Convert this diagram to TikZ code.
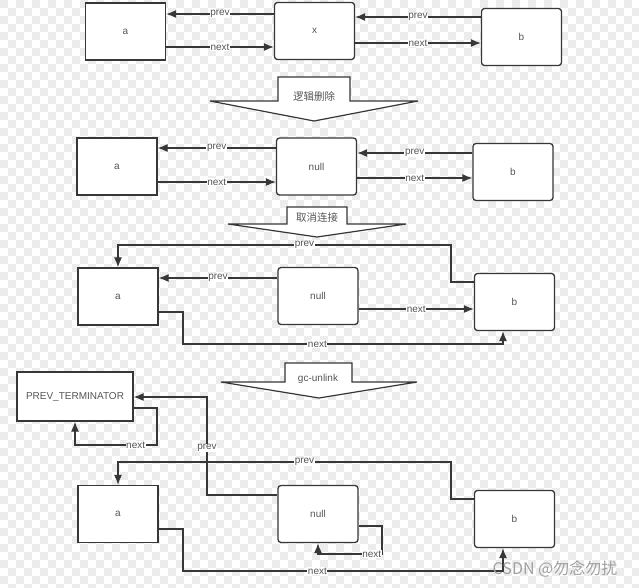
\documentclass[tikz,border=0pt]{standalone}
\usepackage{fontspec}
\setmainfont{Liberation Sans}
\newfontfamily\cjk{Noto Sans CJK SC}
\usetikzlibrary{arrows.meta, calc}
\definecolor{linegray}{RGB}{55,55,55}
\definecolor{textgray}{RGB}{85,85,85}
\definecolor{checker}{RGB}{236,236,236}
\definecolor{markgray}{RGB}{160,160,160}

\tikzset{
  box/.style={draw=linegray, line width=1.3pt, fill=white, minimum width=80pt,
    minimum height=57pt, text=textgray, font=\fontsize{10}{11}\selectfont},
  rbox/.style={box, rounded corners=3pt},
  link/.style={draw=linegray, line width=1.2pt, -{Latex[length=10pt,width=8pt]}},
  lbl/.style={fill=white, inner sep=0.6pt, text=textgray, font=\fontsize{10}{10}\selectfont},
  bigarrow/.style={draw=linegray, line width=1.2pt, fill=white, line join=miter},
  steptext/.style={inner sep=0pt, text=textgray, font=\fontsize{10.5}{11}\selectfont},
}

\begin{document}
\begin{tikzpicture}[x=1pt, y=-1pt]
  \useasboundingbox (0,0) rectangle (639,587);
  % transparent background
  \begin{scope}
    \clip (0,0) rectangle (639,587);
    \fill[white] (0,0) rectangle (639,587);
    \foreach \i in {0,...,79}{
      \foreach \j in {0,...,36}{
        \fill[checker] ({8*\i},{16*\j+8*mod(\i,2)}) rectangle ++(8,8);
      }
    }
  \end{scope}

  % row 1
  \node[box] (a1) at (125.5,31.5) {a};
  \node[rbox] (x1) at (314.5,31) {x};
  \node[rbox] (b1) at (521.5,37) {b};
  \draw[link] (x1.west |- 0,14) -- node[lbl] {prev} (a1.east |- 0,14);
  \draw[link] (a1.east |- 0,47) -- node[lbl] {next} (x1.west |- 0,47);
  \draw[link] (b1.west |- 0,17) -- node[lbl] {prev} (x1.east |- 0,17);
  \draw[link] (x1.east |- 0,43) -- node[lbl] {next} (b1.west |- 0,43);

  % step 1
  \draw[bigarrow] (278,77) -- (350,77) -- (350,101) -- (418,101) -- (314,121)
    -- (210,101) -- (278,101) -- cycle;
  \node[steptext] (del) at (314,96) {\cjk 逻辑删除};

  % row 2
  \node[box] (a2) at (117,166.5) {a};
  \node[rbox] (n2) at (316.5,166.5) {null};
  \node[rbox] (b2) at (513,172) {b};
  \draw[link] (n2.west |- 0,148) -- node[lbl] {prev} (a2.east |- 0,148);
  \draw[link] (a2.east |- 0,182) -- node[lbl] {next} (n2.west |- 0,182);
  \draw[link] (b2.west |- 0,153) -- node[lbl] {prev} (n2.east |- 0,153);
  \draw[link] (n2.east |- 0,178) -- node[lbl] {next} (b2.west |- 0,178);

  % step 2
  \draw[bigarrow] (287,207) -- (347,207) -- (347,224) -- (406,224) -- (317,237)
    -- (228,224) -- (287,224) -- cycle;
  \node[steptext] (cut) at (317,218) {\cjk 取消连接};

  % row 3
  \node[box] (a3) at (118,296.5) {a};
  \node[rbox] (n3) at (318,296) {null};
  \node[rbox] (b3) at (514.5,302) {b};
  \draw[link] (n3.west |- 0,278) -- node[lbl] {prev} (a3.east |- 0,278);
  \draw[link] (n3.east |- 0,309) -- node[lbl] {next} (b3.west |- 0,309);
  \draw[link] (b3.west |- 0,282) -| (451,245) -| node[lbl, pos=.22] {prev} (a3.north);
  \draw[link] (a3.east |- 0,312) -| (183,344) -| node[lbl, pos=.21] {next} (503,0 |- b3.south);

  % step 3
  \draw[bigarrow] (285,363) -- (352,363) -- (352,382) -- (417,382) -- (319,398)
    -- (221,382) -- (285,382) -- cycle;
  \node[steptext, font=\fontsize{10}{11}\selectfont] (gc) at (318,379) {gc-unlink};

  % row 4
  \node[box, minimum width=116pt, minimum height=49pt] (pt) at (75,396.5) {PREV\_TERMINATOR};
  \node[box] (a4) at (118,514) {a};
  \node[rbox] (n4) at (318,514) {null};
  \node[rbox] (b4) at (514.5,519) {b};
  \draw[link] (pt.east |- 0,408) -| (157,445) -| node[lbl, pos=.13] {next} (pt.south);
  \draw[link] (b4.west |- 0,499) -| (451,462) -| node[lbl, pos=.22] {prev} (a4.north);
  \draw[link] (n4.west |- 0,495) -| node[lbl, pos=.74] {prev} (207,397) -- (pt.east |- 0,397);
  \draw[link] (n4.east |- 0,526) -| (382,554) -| node[lbl, pos=.08] {next} (n4.south);
  \draw[link] (a4.east |- 0,529) -| (183,571) -| node[lbl, pos=.21] {next} (503,0 |- b4.south);

  % watermark
  \node[text=markgray, inner sep=0pt, font=\cjk\fontsize{16}{17}\selectfont] (mark) at (555,569) {CSDN @勿念勿扰};
\end{tikzpicture}
\end{document}
